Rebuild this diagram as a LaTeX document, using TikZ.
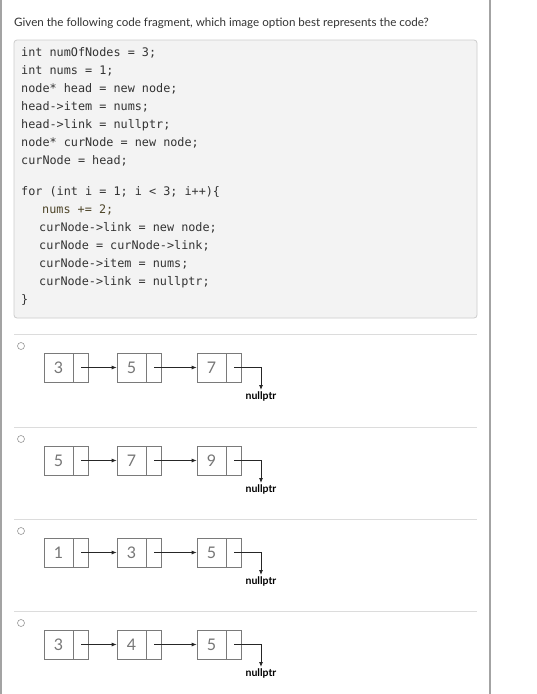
\documentclass[tikz,border=0pt]{standalone}
\usepackage{fontspec}
\setmainfont{Lato}
\setmonofont{DejaVu Sans Mono}
\usepackage{tikz}
\usetikzlibrary{
  arrows.meta,
  positioning
}
\definecolor{pagerule}{HTML}{A3A3A3}
\definecolor{sepline}{HTML}{DCDCDC}
\definecolor{codefill}{HTML}{F3F3F3}
\definecolor{codeedge}{HTML}{CCCCCC}
\definecolor{codetext}{HTML}{333333}
\definecolor{codeolive}{HTML}{4E4529}
\definecolor{cellline}{HTML}{7A7A7A}
\definecolor{digit}{HTML}{767676}
\tikzset{
  datacell/.style={
    draw=cellline,
    line width=0.7pt,
    minimum width=29pt,
    minimum height=29pt,
    inner sep=0pt,
    font=\fontsize{16}{16}\selectfont,
    text=digit,
  },
  linkcell/.style={
    draw=cellline,
    line width=0.7pt,
    minimum width=15pt,
    minimum height=29pt,
    inner sep=0pt,
  },
  arr/.style={
    -{Latex[length=5pt,width=4pt]},
    line width=0.8pt,
    draw=black!85,
  },
  nulltext/.style={
    font=\bfseries\fontsize{10.5}{10.5}\selectfont,
    inner sep=1pt,
  },
  radio/.style={
    circle,
    draw=gray!80,
    line width=0.6pt,
    minimum size=7pt,
    inner sep=0pt,
  },
  seprule/.style={
    draw=sepline,
    line width=0.8pt,
  },
}

\begin{document}
\begin{tikzpicture}[
  x=1pt, y=1pt,
  every node/.style={align=left},
]
  \useasboundingbox (0,0) rectangle (537,-694);
  \fill[white] (0,0) rectangle (537,-694);

  % page edges
  \draw[pagerule, line width=1.3pt] (1,0) -- (1,-694);
  \draw[pagerule, line width=1.3pt] (490,0) -- (490,-694);

  % question
  \node[anchor=base west, inner sep=0pt, text=codetext, font=\fontsize{11.6}{13}\selectfont] (question) at (14,-26.5)
    {Given the following code fragment, which image option best represents the code?};

  % code block
  \draw[fill=codefill, draw=codeedge, line width=0.8pt, rounded corners=3pt] (14,-40) rectangle (477,-318);
  \node[anchor=north west, inner sep=0pt, text=codetext, font=\ttfamily\fontsize{11.8}{18}\selectfont] (code) at (21,-47.5)
    {int numOfNodes = 3;\\
     int nums = 1;\\
     node* head = new node;\\
     head->item = nums;\\
     head->link = nullptr;\\
     node* curNode = new node;\\
     curNode = head;\\[13pt]
     for (int i = 1; i < 3; i++)\{\\
     \hspace*{21pt}\textcolor{codeolive}{nums += 2;}\\
     \hspace*{18pt}curNode->link = new node;\\
     \hspace*{18pt}curNode = curNode->link;\\
     \hspace*{18pt}curNode->item = nums;\\
     \hspace*{18pt}curNode->link = nullptr;\\
     \}};

  % separators
  \draw[seprule] (14,-334.5) -- (477,-334.5);
  \draw[seprule] (14,-427) -- (477,-427);
  \draw[seprule] (14,-519) -- (477,-519);
  \draw[seprule] (14,-611) -- (477,-611);

  % Option A — 3, 5, 7
  \node[radio] (radioA) at (21,-346) {};
  \node[datacell] (a1) at (58.5,-367.5) {3};
  \node[linkcell, right=0pt of a1] (a1l) {};
  \node[datacell] (a2) at (131.5,-367.5) {5};
  \node[linkcell, right=0pt of a2] (a2l) {};
  \node[datacell] (a3) at (211.5,-367.5) {7};
  \node[linkcell, right=0pt of a3] (a3l) {};
  \node[nulltext, anchor=north] (nullA) at (261,-390) {nullptr};
  \draw[arr] (a1l.center) -- (a2.west);
  \draw[arr] (a2l.center) -- (a3.west);
  \draw[arr] (a3l.center) -| (nullA.north);

  % Option B — 5, 7, 9
  \node[radio] (radioB) at (21,-439) {};
  \node[datacell] (b1) at (58.5,-460.5) {5};
  \node[linkcell, right=0pt of b1] (b1l) {};
  \node[datacell] (b2) at (131.5,-460.5) {7};
  \node[linkcell, right=0pt of b2] (b2l) {};
  \node[datacell] (b3) at (211.5,-460.5) {9};
  \node[linkcell, right=0pt of b3] (b3l) {};
  \node[nulltext, anchor=north] (nullB) at (261,-483) {nullptr};
  \draw[arr] (b1l.center) -- (b2.west);
  \draw[arr] (b2l.center) -- (b3.west);
  \draw[arr] (b3l.center) -| (nullB.north);

  % Option C — 1, 3, 5
  \node[radio] (radioC) at (21,-531) {};
  \node[datacell] (c1) at (58.5,-552.5) {1};
  \node[linkcell, right=0pt of c1] (c1l) {};
  \node[datacell] (c2) at (131.5,-552.5) {3};
  \node[linkcell, right=0pt of c2] (c2l) {};
  \node[datacell] (c3) at (211.5,-552.5) {5};
  \node[linkcell, right=0pt of c3] (c3l) {};
  \node[nulltext, anchor=north] (nullC) at (261,-575) {nullptr};
  \draw[arr] (c1l.center) -- (c2.west);
  \draw[arr] (c2l.center) -- (c3.west);
  \draw[arr] (c3l.center) -| (nullC.north);

  % Option D — 3, 4, 5
  \node[radio] (radioD) at (21,-623) {};
  \node[datacell] (d1) at (58.5,-644.5) {3};
  \node[linkcell, right=0pt of d1] (d1l) {};
  \node[datacell] (d2) at (131.5,-644.5) {4};
  \node[linkcell, right=0pt of d2] (d2l) {};
  \node[datacell] (d3) at (211.5,-644.5) {5};
  \node[linkcell, right=0pt of d3] (d3l) {};
  \node[nulltext, anchor=north] (nullD) at (261,-667) {nullptr};
  \draw[arr] (d1l.center) -- (d2.west);
  \draw[arr] (d2l.center) -- (d3.west);
  \draw[arr] (d3l.center) -| (nullD.north);
\end{tikzpicture}
\end{document}
